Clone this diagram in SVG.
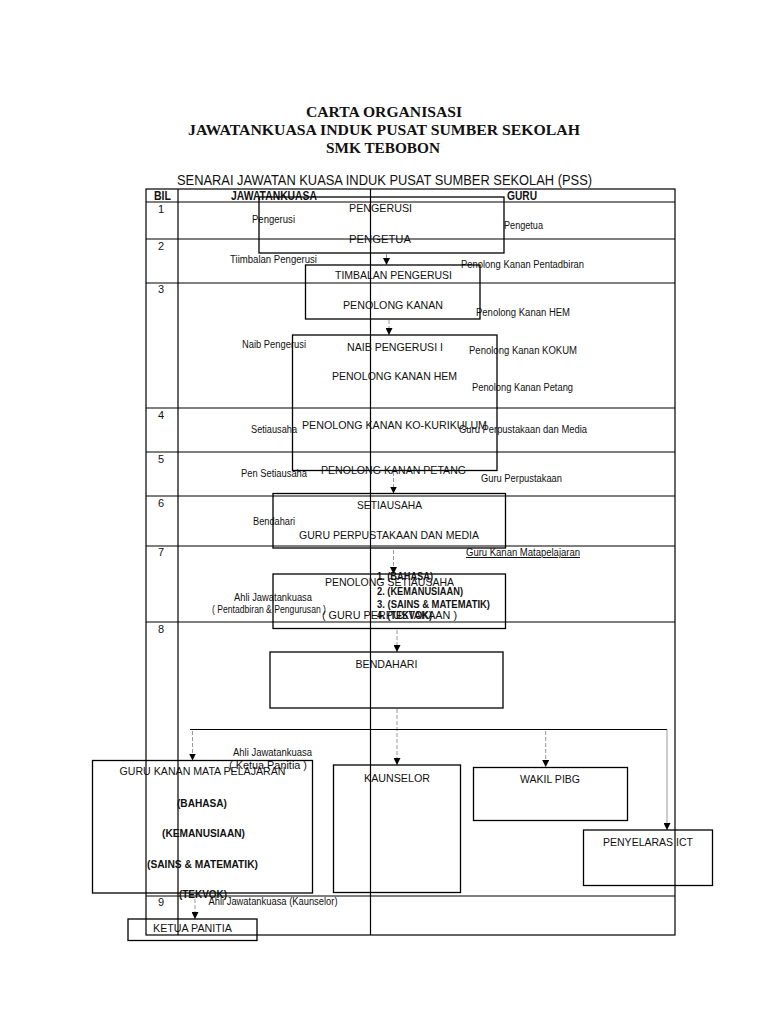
<svg xmlns="http://www.w3.org/2000/svg" width="768" height="1024" viewBox="0 0 768 1024">
<style>
.ln{stroke:#000;stroke-width:1.2;fill:none}
.box{fill:none;stroke:#000;stroke-width:1.3}
.t{font-family:"Liberation Sans",Arial,sans-serif;font-size:10.5px;fill:#111}
.s{font-size:10px}
.b{font-weight:bold;font-size:11px}
.h{font-weight:bold;font-size:12px}
.n{font-size:11px;text-anchor:middle}
.ttl{font-family:"Liberation Serif","Times New Roman",serif;font-weight:bold;font-size:15.5px;text-anchor:middle;fill:#111}
.c{stroke:#999;stroke-width:1;stroke-dasharray:4 2;fill:none}
.cs{stroke:#000;stroke-width:1.1;fill:none}
</style>
<defs>
<marker id="ah" viewBox="0 0 8 8" refX="8" refY="4" markerWidth="7" markerHeight="7" markerUnits="userSpaceOnUse" orient="auto">
<path d="M0,0 L8,4 L0,8 z" fill="#000"/>
</marker>
</defs>
<rect width="768" height="1024" fill="#fff"/>

<g id="title">
<text class="ttl" x="384" y="117" textLength="156" lengthAdjust="spacingAndGlyphs">CARTA ORGANISASI</text>
<text class="ttl" x="384" y="135" textLength="392" lengthAdjust="spacingAndGlyphs">JAWATANKUASA INDUK PUSAT SUMBER SEKOLAH</text>
<text class="ttl" x="383" y="153" textLength="114" lengthAdjust="spacingAndGlyphs">SMK TEBOBON</text>
<text class="t" x="177" y="185" style="font-size:14px" textLength="415" lengthAdjust="spacingAndGlyphs">SENARAI JAWATAN KUASA INDUK PUSAT SUMBER SEKOLAH (PSS)</text>
</g>

<g id="table">
<rect class="ln" x="146" y="189" width="529" height="746"/>
<line class="ln" x1="146" y1="202" x2="675" y2="202"/>
<line class="ln" x1="146" y1="239" x2="675" y2="239"/>
<line class="ln" x1="146" y1="283" x2="675" y2="283"/>
<line class="ln" x1="146" y1="408" x2="675" y2="408"/>
<line class="ln" x1="146" y1="452" x2="675" y2="452"/>
<line class="ln" x1="146" y1="496" x2="675" y2="496"/>
<line class="ln" x1="146" y1="546" x2="675" y2="546"/>
<line class="ln" x1="146" y1="622" x2="675" y2="622"/>
<line class="ln" x1="146" y1="896" x2="675" y2="896"/>
<line class="ln" x1="178" y1="189" x2="178" y2="935"/>
<line class="ln" x1="370.5" y1="189" x2="370.5" y2="935"/>
<text class="t h" x="154" y="200" textLength="17" lengthAdjust="spacingAndGlyphs">BIL</text>
<text class="t h" x="231" y="200" textLength="86" lengthAdjust="spacingAndGlyphs">JAWATANKUASA</text>
<text class="t h" x="507" y="200" textLength="30" lengthAdjust="spacingAndGlyphs">GURU</text>
<text class="t n" x="161" y="213">1</text>
<text class="t n" x="161" y="250">2</text>
<text class="t n" x="161" y="293">3</text>
<text class="t n" x="161" y="419">4</text>
<text class="t n" x="161" y="463">5</text>
<text class="t n" x="161" y="507">6</text>
<text class="t n" x="161" y="556">7</text>
<text class="t n" x="161" y="633">8</text>
<text class="t n" x="161" y="906">9</text>
</g>

<g id="labels">
<text class="t s" x="252" y="223" textLength="43" lengthAdjust="spacingAndGlyphs">Pengerusi</text>
<text class="t s" x="504" y="229" textLength="39" lengthAdjust="spacingAndGlyphs">Pengetua</text>
<text class="t s" x="230" y="263" textLength="87" lengthAdjust="spacingAndGlyphs">Tiimbalan Pengerusi</text>
<text class="t s" x="461" y="268" textLength="123" lengthAdjust="spacingAndGlyphs">Penolong Kanan Pentadbiran</text>
<text class="t s" x="476" y="316" textLength="94" lengthAdjust="spacingAndGlyphs">Penolong Kanan HEM</text>
<text class="t s" x="242" y="348" textLength="64" lengthAdjust="spacingAndGlyphs">Naib Pengerusi</text>
<text class="t s" x="469" y="354" textLength="108" lengthAdjust="spacingAndGlyphs">Penolong Kanan KOKUM</text>
<text class="t s" x="472" y="391" textLength="101" lengthAdjust="spacingAndGlyphs">Penolong Kanan Petang</text>
<text class="t s" x="251" y="433" textLength="46" lengthAdjust="spacingAndGlyphs">Setiausaha</text>
<text class="t s" x="459" y="433" textLength="128" lengthAdjust="spacingAndGlyphs">Guru Perpustakaan dan Media</text>
<text class="t s" x="241" y="477" textLength="66" lengthAdjust="spacingAndGlyphs">Pen Setiausaha</text>
<text class="t s" x="481" y="482" textLength="81" lengthAdjust="spacingAndGlyphs">Guru Perpustakaan</text>
<text class="t s" x="253" y="525" textLength="42" lengthAdjust="spacingAndGlyphs">Bendahari</text>
<text class="t s" x="466" y="556" textLength="114" lengthAdjust="spacingAndGlyphs" text-decoration="underline">Guru Kanan Matapelajaran</text>
<text class="t s" x="234" y="601" textLength="78" lengthAdjust="spacingAndGlyphs">Ahli Jawatankuasa</text>
<text class="t s" x="212" y="613" textLength="114" lengthAdjust="spacingAndGlyphs">( Pentadbiran  &amp; Pengurusan )</text>
<text class="t s" x="233" y="756" textLength="79" lengthAdjust="spacingAndGlyphs">Ahli Jawatankuasa</text>
<text class="t s" x="229" y="769" textLength="78" lengthAdjust="spacingAndGlyphs">( Ketua Panitia )</text>
<text class="t s" x="208.5" y="905" textLength="129" lengthAdjust="spacingAndGlyphs">Ahli Jawatankuasa (Kaunselor)</text>
</g>

<g id="connectors">
<line class="c" x1="386.5" y1="254" x2="386.5" y2="265" marker-end="url(#ah)"/>
<line class="c" x1="389" y1="320" x2="389" y2="335" marker-end="url(#ah)"/>
<line class="c" x1="393.5" y1="472" x2="393.5" y2="493.5" marker-end="url(#ah)"/>
<line class="c" x1="393.5" y1="550" x2="393.5" y2="574" marker-end="url(#ah)"/>
<line class="c" x1="397" y1="630" x2="397" y2="652" marker-end="url(#ah)"/>
<line class="c" x1="397" y1="709" x2="397" y2="765" marker-end="url(#ah)"/>
<line class="cs" x1="190" y1="729.5" x2="667" y2="729.5"/>
<line class="c" x1="192.5" y1="731" x2="192.5" y2="760.5" marker-end="url(#ah)"/>
<line class="c" x1="545.7" y1="731" x2="545.7" y2="767" marker-end="url(#ah)"/>
<line class="c" x1="667" y1="729.5" x2="667" y2="830" style="stroke-dasharray:none" marker-end="url(#ah)"/>
<line class="c" x1="195" y1="899" x2="195" y2="919" marker-end="url(#ah)"/>
</g>

<g id="pengerusi">
<rect class="box" x="259" y="197" width="245" height="56"/>
<text class="t" x="349" y="212" textLength="63" lengthAdjust="spacingAndGlyphs">PENGERUSI</text>
<text class="t" x="349" y="243" textLength="62" lengthAdjust="spacingAndGlyphs">PENGETUA</text>
</g>

<g id="timbalan">
<rect class="box" x="305.5" y="265" width="174.5" height="54"/>
<text class="t" x="335" y="279" textLength="117" lengthAdjust="spacingAndGlyphs">TIMBALAN PENGERUSI</text>
<text class="t" x="343" y="309" textLength="100" lengthAdjust="spacingAndGlyphs">PENOLONG KANAN</text>
</g>

<g id="naib">
<rect class="box" x="292.5" y="335" width="204.5" height="135.5"/>
<text class="t" x="347" y="351" textLength="96" lengthAdjust="spacingAndGlyphs">NAIB PENGERUSI I</text>
<text class="t" x="332" y="380" textLength="125" lengthAdjust="spacingAndGlyphs">PENOLONG KANAN HEM</text>
<text class="t" x="302" y="429" textLength="185" lengthAdjust="spacingAndGlyphs">PENOLONG KANAN KO-KURIKULUM</text>
<text class="t" x="321" y="474" textLength="145" lengthAdjust="spacingAndGlyphs">PENOLONG KANAN PETANG</text>
</g>

<g id="setiausaha">
<rect class="box" x="273" y="493.5" width="232.5" height="54.5"/>
<text class="t" x="357" y="509" textLength="65" lengthAdjust="spacingAndGlyphs">SETIAUSAHA</text>
<text class="t" x="299" y="539" textLength="180" lengthAdjust="spacingAndGlyphs">GURU PERPUSTAKAAN DAN MEDIA</text>
</g>

<g id="penolong-setiausaha">
<rect class="box" x="273" y="574" width="232.5" height="54.5"/>
<text class="t" x="325" y="586" textLength="129" lengthAdjust="spacingAndGlyphs">PENOLONG SETIAUSAHA</text>
<text class="t" x="322" y="619" textLength="135" lengthAdjust="spacingAndGlyphs">( GURU PERPUSTAKAAN )</text>
<text class="t b" x="377" y="580" textLength="56" lengthAdjust="spacingAndGlyphs">1. (BAHASA)</text>
<text class="t b" x="377" y="594.5" textLength="86" lengthAdjust="spacingAndGlyphs">2. (KEMANUSIAAN)</text>
<text class="t b" x="377" y="607.5" textLength="113" lengthAdjust="spacingAndGlyphs">3. (SAINS &amp; MATEMATIK)</text>
<text class="t b" x="377" y="619" textLength="55" lengthAdjust="spacingAndGlyphs">4. (TEKVOK)</text>
</g>

<g id="bendahari">
<rect class="box" x="270" y="652" width="233" height="56"/>
<text class="t" x="355.5" y="668" textLength="62" lengthAdjust="spacingAndGlyphs">BENDAHARI</text>
</g>

<g id="guru-kanan">
<rect class="box" x="92.5" y="760.5" width="220" height="132.5"/>
<text class="t" x="119.5" y="775" textLength="166" lengthAdjust="spacingAndGlyphs">GURU KANAN MATA PELAJARAN</text>
<text class="t b" x="177" y="807" textLength="50" lengthAdjust="spacingAndGlyphs">(BAHASA)</text>
<text class="t b" x="162" y="837" textLength="83" lengthAdjust="spacingAndGlyphs">(KEMANUSIAAN)</text>
<text class="t b" x="147" y="868" textLength="111" lengthAdjust="spacingAndGlyphs">(SAINS &amp; MATEMATIK)</text>
<text class="t b" x="179" y="898" textLength="48" lengthAdjust="spacingAndGlyphs">(TEKVOK)</text>
</g>

<g id="kaunselor">
<rect class="box" x="333.5" y="765" width="127" height="127.5"/>
<text class="t" x="364" y="782" textLength="66" lengthAdjust="spacingAndGlyphs">KAUNSELOR</text>
</g>

<g id="wakil-pibg">
<rect class="box" x="473.5" y="767.5" width="154" height="53"/>
<text class="t" x="520" y="783" textLength="60" lengthAdjust="spacingAndGlyphs">WAKIL PIBG</text>
</g>

<g id="penyelaras-ict">
<rect class="box" x="583.5" y="830" width="129" height="55.5"/>
<text class="t" x="603" y="846" textLength="90" lengthAdjust="spacingAndGlyphs">PENYELARAS ICT</text>
</g>

<g id="ketua-panitia">
<rect class="box" x="128" y="919" width="129" height="21.5"/>
<text class="t" x="153" y="932" textLength="79" lengthAdjust="spacingAndGlyphs">KETUA PANITIA</text>
</g>
</svg>
